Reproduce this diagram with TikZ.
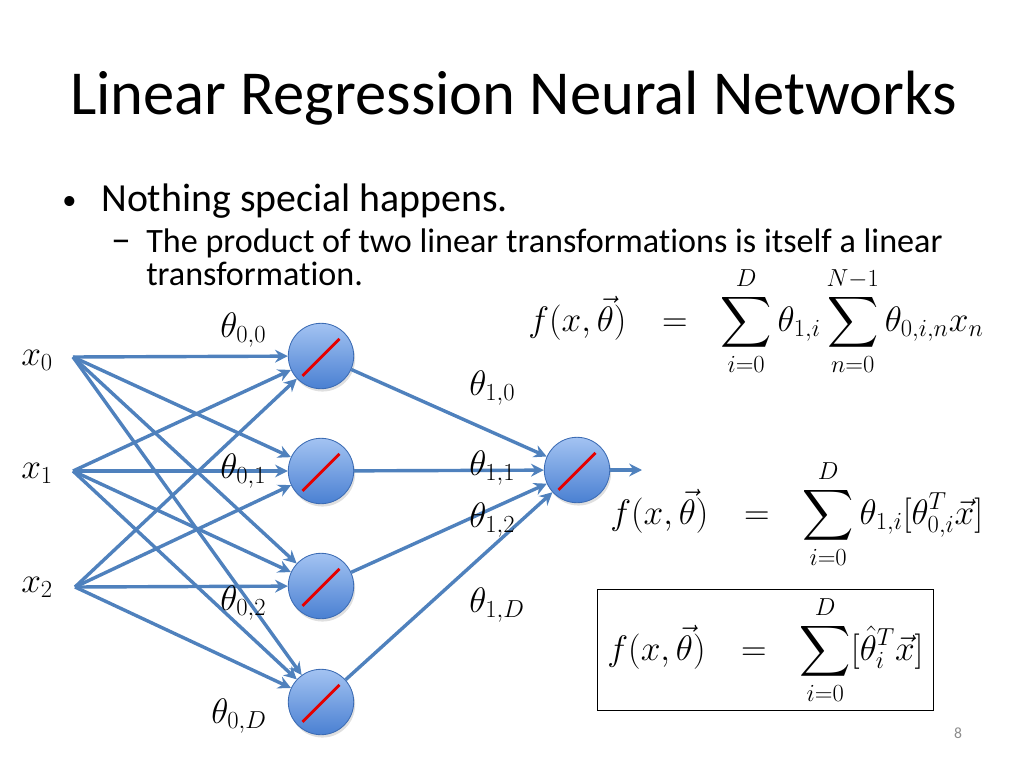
\documentclass[tikz,border=0pt]{standalone}
\usepackage{amsmath}
\usepackage[no-math]{fontspec}
\setmainfont[Ligatures={TeX,NoCommon}]{Carlito}
\DeclareFontShape{OMX}{cmex}{m}{n}{<-7.5> cmex7 <7.5-8.5> cmex8 <8.5-> cmex10}{}
\usetikzlibrary{arrows.meta,shadows}
\definecolor{wireblue}{HTML}{4F81BD}
\definecolor{celltop}{HTML}{A3C3F2}
\definecolor{cellbot}{HTML}{4A80D2}
\definecolor{cellrim}{HTML}{3C6CB4}

\begin{document}
\begin{tikzpicture}[x=0.703125pt,y=-0.703125pt,
  wire/.style={draw=wireblue,line width=2.4pt,-{Stealth[length=9pt,width=9pt,inset=3pt]}},
  unit/.style={circle,minimum size=46pt,inner sep=0pt,draw=cellrim,line width=0.6pt,
    top color=celltop,bottom color=cellbot,
    drop shadow={opacity=0.25,shadow xshift=1pt,shadow yshift=-2pt},
    path picture={\draw[red!90!black,line width=2pt]
      ([shift={(-13pt,-14pt)}]path picture bounding box.center)
      -- ([shift={(13pt,12pt)}]path picture bounding box.center);}},
  mathlbl/.style={anchor=base west,inner sep=0pt,font=\fontsize{25}{30}\selectfont}]

\useasboundingbox (0,0) rectangle (1024,768);

% slide text
\node[anchor=base west,inner sep=0pt,font=\fontsize{44}{52}\selectfont] (title) at (70,115)
  {Linear Regression Neural Networks};
\node[anchor=base west,inner sep=0pt,font=\fontsize{20}{24}\selectfont] (dot1) at (62,210) {•};
\node[anchor=base west,inner sep=0pt,font=\fontsize{28}{34}\selectfont] (item1) at (101,212)
  {Nothing special happens.};
\node[anchor=base west,inner sep=0pt,font=\fontsize{28}{29}\selectfont] (dash1) at (111,253) {--};
\node[anchor=base west,inner sep=0pt,font=\fontsize{24}{29}\selectfont] (item2) at (146,253)
  {The product of two linear transformations is itself a linear};
\node[anchor=base west,inner sep=0pt,font=\fontsize{24}{29}\selectfont] (item3) at (146,285)
  {transformation.};
\node[text=black!45,font=\fontsize{11}{13}\selectfont] (page) at (958,733) {8};

% inputs
\coordinate (s0) at (73,357);
\coordinate (s1) at (73,471);
\coordinate (s2) at (75,587);
\node[mathlbl] (x0) at (21,365) {$x_0$};
\node[mathlbl] (x1) at (21,478) {$x_1$};
\node[mathlbl] (x2) at (21,592) {$x_2$};

% hidden layer and output
\node[unit] (h0) at (321,356) {};
\node[unit] (h1) at (321,471) {};
\node[unit] (h2) at (321,586) {};
\node[unit] (h3) at (321,702) {};
\node[unit] (out) at (577,470) {};
\coordinate (fx) at (642,470);

\draw[wire] (s0) -- (h0);
\draw[wire] (s0) -- (h1);
\draw[wire] (s0) -- (h2);
\draw[wire] (s0) -- (h3);
\draw[wire] (s1) -- (h0);
\draw[wire] (s1) -- (h1);
\draw[wire] (s1) -- (h2);
\draw[wire] (s1) -- (h3);
\draw[wire] (s2) -- (h0);
\draw[wire] (s2) -- (h1);
\draw[wire] (s2) -- (h2);
\draw[wire] (s2) -- (h3);

\draw[wire] (h0) -- (out);
\draw[wire] (h1) -- (out);
\draw[wire] (h2) -- (out);
\draw[wire] (h3) -- (out);
\draw[wire] (out) -- (fx);

% weights
\node[mathlbl] (w00) at (220,337) {$\theta_{0,0}$};
\node[mathlbl] (w01) at (220,478) {$\theta_{0,1}$};
\node[mathlbl] (w02) at (220,610) {$\theta_{0,2}$};
\node[mathlbl] (w0D) at (211,723) {$\theta_{0,D}$};
\node[mathlbl] (w10) at (469,395) {$\theta_{1,0}$};
\node[mathlbl] (w11) at (469,475) {$\theta_{1,1}$};
\node[mathlbl] (w12) at (469,527) {$\theta_{1,2}$};
\node[mathlbl] (w1D) at (469,612) {$\theta_{1,D}$};

% equations
\node[mathlbl] (eq1) at (528,331)
  {$\displaystyle f(x,\vec{\theta})\hspace{25pt}{=}\hspace{19pt}\sum_{i=0}^{D}\theta_{1,i}\sum_{n=0}^{N-1}\theta_{0,i,n}x_n$};
\node[mathlbl] (eq2) at (610,524)
  {$\displaystyle f(x,\vec{\theta})\hspace{25pt}{=}\hspace{19pt}\sum_{i=0}^{D}\theta_{1,i}[\theta_{0,i}^T\vec{x}]$};
\node[mathlbl,draw=black,line width=0.6pt,inner xsep=7pt,inner ysep=4pt] (eq3) at (597,660)
  {$\displaystyle f(x,\vec{\theta})\hspace{25pt}{=}\hspace{19pt}\sum_{i=0}^{D}[\hat{\theta}_i^T\vec{x}]$};

\end{tikzpicture}
\end{document}
